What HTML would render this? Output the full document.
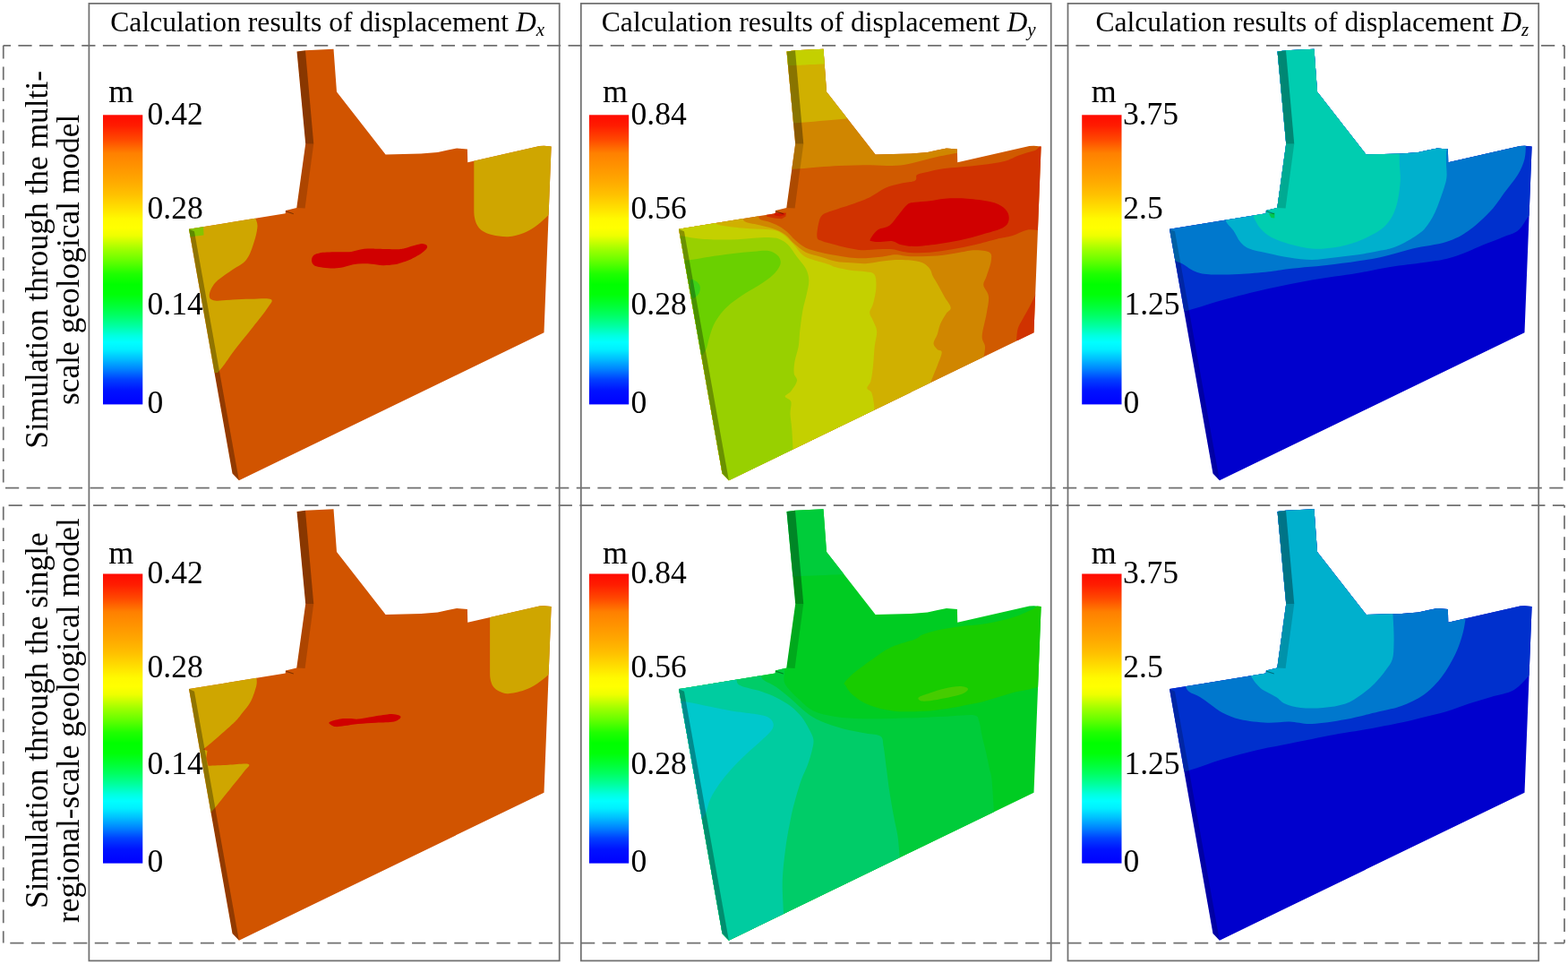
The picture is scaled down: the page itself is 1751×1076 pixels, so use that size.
<!DOCTYPE html>
<html lang="en"><head><meta charset="utf-8"><title>Displacement calculation results</title>
<style>html,body{margin:0;padding:0;background:#fff}body{width:1751px;height:1076px;overflow:hidden}svg{display:block}text{font-family:"Liberation Serif",serif;fill:#000}</style>
</head><body>
<svg width="1751" height="1076" viewBox="0 0 1751 1076">
<defs>
<linearGradient id="cb" x1="0" y1="0" x2="0" y2="1"><stop offset="0" stop-color="#ff0a00"/><stop offset="0.037" stop-color="#ff1c00"/><stop offset="0.085" stop-color="#ff4800"/><stop offset="0.132" stop-color="#ff8000"/><stop offset="0.18" stop-color="#ff9400"/><stop offset="0.227" stop-color="#ffa800"/><stop offset="0.274" stop-color="#ffc000"/><stop offset="0.322" stop-color="#ffe000"/><stop offset="0.36" stop-color="#fffa00"/><stop offset="0.39" stop-color="#ffff00"/><stop offset="0.417" stop-color="#eeff00"/><stop offset="0.464" stop-color="#a0ff00"/><stop offset="0.5" stop-color="#6cff00"/><stop offset="0.548" stop-color="#20ff00"/><stop offset="0.585" stop-color="#00ff00"/><stop offset="0.62" stop-color="#00ff08"/><stop offset="0.655" stop-color="#00ff30"/><stop offset="0.69" stop-color="#00ff60"/><stop offset="0.728" stop-color="#00ffa0"/><stop offset="0.762" stop-color="#00ffe0"/><stop offset="0.785" stop-color="#00ffff"/><stop offset="0.81" stop-color="#00f0ff"/><stop offset="0.842" stop-color="#00c0ff"/><stop offset="0.88" stop-color="#0080ff"/><stop offset="0.914" stop-color="#0040ff"/><stop offset="0.952" stop-color="#0012ff"/><stop offset="1" stop-color="#0000ff"/></linearGradient>
<clipPath id="sil"><polygon points="331.50,57.50 341.00,56.25 372.50,54.75 376.00,102.50 430.60,172.50 470.00,171.50 488.75,170.00 500.00,167.50 510.00,165.60 521.90,166.50 522.25,181.25 602.50,163.10 607.50,162.75 615.60,163.50 607.50,371.25 266.90,536.25 259.50,528.50 211.00,255.70 318.75,238.20 318.90,235.00 331.25,232.00 341.20,160.60"/></clipPath>
</defs>
<rect width="1751" height="1076" fill="#fff"/>
<g transform="translate(0,0)">
<g clip-path="url(#sil)">
<rect x="200" y="40" width="430" height="510" fill="#d15400"/>
<path d="M285.00,243.00C285.42,244.58 287.71,248.00 287.50,252.50C287.29,257.00 285.83,263.75 283.75,270.00C281.67,276.25 279.38,284.58 275.00,290.00C270.62,295.42 263.33,298.17 257.50,302.50C251.67,306.83 243.96,311.42 240.00,316.00C236.04,320.58 233.75,326.75 233.75,330.00C233.75,333.25 235.62,334.75 240.00,335.50C244.38,336.25 253.33,334.79 260.00,334.50C266.67,334.21 272.92,333.83 280.00,333.75C287.08,333.67 299.38,332.33 302.50,334.00C305.62,335.67 302.08,338.58 298.75,343.75C295.42,348.92 288.54,357.29 282.50,365.00C276.46,372.71 267.92,382.92 262.50,390.00C257.08,397.08 253.25,403.17 250.00,407.50C246.75,411.83 244.17,414.58 243.00,416.00L200.00,416.00L200.00,240.00L285.00,235.00Z" fill="#cfa600"/>
<path d="M529.30,236.00C529.38,237.00 529.43,239.92 529.80,242.00C530.17,244.08 530.63,246.42 531.50,248.50C532.37,250.58 533.42,252.75 535.00,254.50C536.58,256.25 538.50,257.70 541.00,259.00C543.50,260.30 545.58,261.43 550.00,262.30C554.42,263.18 561.67,264.63 567.50,264.25C573.33,263.87 579.58,262.17 585.00,260.00C590.42,257.83 595.42,254.58 600.00,251.25C604.58,247.92 609.17,243.21 612.50,240.00C615.83,236.79 618.75,233.33 620.00,232.00L625.00,160.00L529.30,160.00Z" fill="#cfa600"/>
<path d="M348.20,288.70C348.54,287.17 349.38,285.55 350.80,284.50C352.22,283.45 354.33,282.88 356.70,282.40C359.07,281.92 361.53,281.78 365.00,281.60C368.47,281.42 373.33,281.37 377.50,281.30C381.67,281.23 386.53,281.50 390.00,281.20C393.47,280.90 395.52,280.07 398.30,279.50C401.08,278.93 403.92,278.15 406.70,277.80C409.48,277.45 412.23,277.40 415.00,277.40C417.77,277.40 418.43,277.66 423.30,277.80C428.17,277.94 439.33,278.38 444.20,278.25C449.07,278.12 449.73,277.62 452.50,277.00C455.27,276.38 458.30,275.22 460.80,274.50C463.30,273.78 465.68,273.12 467.50,272.70C469.32,272.28 470.32,271.91 471.70,272.00C473.08,272.09 474.90,272.62 475.80,273.25C476.70,273.88 477.23,274.77 477.10,275.75C476.97,276.73 476.32,277.78 475.00,279.10C473.68,280.43 472.25,281.83 469.20,283.70C466.15,285.57 460.18,288.71 456.70,290.30C453.22,291.89 451.08,292.42 448.30,293.25C445.52,294.08 443.47,294.81 440.00,295.30C436.53,295.79 431.67,296.30 427.50,296.20C423.33,296.10 418.75,295.02 415.00,294.70C411.25,294.38 408.47,294.20 405.00,294.30C401.53,294.40 397.82,294.64 394.20,295.30C390.58,295.96 386.78,297.55 383.30,298.25C379.82,298.95 377.05,299.43 373.30,299.50C369.55,299.57 364.27,299.12 360.80,298.70C357.33,298.28 354.51,297.83 352.50,297.00C350.49,296.17 349.47,295.08 348.75,293.70C348.03,292.32 347.86,290.23 348.20,288.70Z" fill="#d00000"/>
<polygon points="208.00,250.00 227.00,250.00 227.50,262.50 208.00,265.00" fill="#86c400"/>
<polygon points="331.50,57.50 341.00,56.25 350.25,160.60 341.20,160.60" fill="#000" fill-opacity="0.34"/>
<polygon points="341.20,160.60 350.25,160.60 340.60,232.50 331.25,232.00" fill="#000" fill-opacity="0.17"/>
<polygon points="211.00,255.70 217.00,258.30 266.90,536.25 259.50,528.50" fill="#000" fill-opacity="0.3"/>
<polygon points="319.00,235.00 327.80,238.20 327.80,239.20 319.00,236.30" fill="#000" fill-opacity="0.4"/>
</g>
</g>
<g transform="translate(547,0)">
<g clip-path="url(#sil)">
<rect x="200" y="40" width="430" height="510" fill="#d05a00"/>
<path d="M325.00,190.00C328.55,189.72 335.52,189.13 346.30,188.30C357.08,187.47 376.63,185.68 389.70,185.00C402.77,184.32 414.70,184.20 424.70,184.20C434.70,184.20 442.77,185.15 449.70,185.00C456.63,184.85 460.75,184.27 466.30,183.30C471.85,182.33 477.43,180.58 483.00,179.20C488.57,177.82 494.15,176.25 499.70,175.00C505.25,173.75 512.42,172.45 516.30,171.70C520.18,170.95 521.88,170.70 523.00,170.50L523.00,30.00L325.00,30.00Z" fill="#d08600"/>
<path d="M325.00,138.00C328.97,137.78 340.47,137.28 348.80,136.70C357.13,136.12 366.80,135.20 375.00,134.50C383.20,133.80 391.33,133.08 398.00,132.50C404.67,131.92 412.17,131.25 415.00,131.00L415.00,30.00L325.00,30.00Z" fill="#d0b000"/>
<path d="M325.00,73.50C328.33,73.38 339.17,73.05 345.00,72.80C350.83,72.55 353.33,72.30 360.00,72.00C366.67,71.70 380.83,71.17 385.00,71.00L385.00,30.00L325.00,30.00Z" fill="#c4d000"/>
<path d="M365.50,265.00C364.83,261.83 366.03,254.17 367.00,250.00C367.97,245.83 368.63,242.50 371.30,240.00C373.97,237.50 376.88,237.22 383.00,235.00C389.12,232.78 401.05,229.20 408.00,226.70C414.95,224.20 419.15,222.78 424.70,220.00C430.25,217.22 435.75,212.50 441.30,210.00C446.85,207.50 452.43,206.38 458.00,205.00C463.57,203.62 471.50,203.37 474.70,201.70C477.90,200.03 474.70,196.67 477.20,195.00C479.70,193.33 484.85,192.82 489.70,191.70C494.55,190.58 500.47,189.17 506.30,188.30C512.13,187.43 517.47,187.22 524.70,186.50C531.93,185.78 541.37,185.08 549.70,184.00C558.03,182.92 567.77,181.78 574.70,180.00C581.63,178.22 585.75,175.25 591.30,173.30C596.85,171.35 602.38,169.85 608.00,168.30C613.62,166.75 622.17,149.72 625.00,164.00C627.83,178.28 627.00,238.55 625.00,254.00C623.00,269.45 617.22,256.25 613.00,256.70C608.78,257.15 604.70,255.60 599.70,256.70C594.70,257.80 588.57,261.63 583.00,263.30C577.43,264.97 573.25,265.03 566.30,266.70C559.35,268.37 549.63,271.37 541.30,273.30C532.97,275.23 524.63,276.90 516.30,278.30C507.97,279.70 499.63,281.13 491.30,281.70C482.97,282.27 473.23,282.27 466.30,281.70C459.37,281.13 455.25,278.87 449.70,278.30C444.15,277.73 438.57,278.15 433.00,278.30C427.43,278.45 421.85,279.47 416.30,279.20C410.75,278.93 405.25,277.82 399.70,276.70C394.15,275.58 387.78,273.78 383.00,272.50C378.22,271.22 373.92,270.25 371.00,269.00C368.08,267.75 366.17,268.17 365.50,265.00Z" fill="#d03200"/>
<path d="M424.70,267.50C425.53,265.37 429.40,259.33 433.00,256.70C436.60,254.07 442.42,254.48 446.30,251.70C450.18,248.92 452.97,243.90 456.30,240.00C459.63,236.10 463.23,230.67 466.30,228.30C469.37,225.93 470.53,226.48 474.70,225.80C478.87,225.12 485.75,224.88 491.30,224.20C496.85,223.52 501.05,222.12 508.00,221.70C514.95,221.28 524.67,221.15 533.00,221.70C541.33,222.25 551.62,223.62 558.00,225.00C564.38,226.38 567.83,227.78 571.30,230.00C574.77,232.22 577.55,235.25 578.80,238.30C580.05,241.35 580.05,245.52 578.80,248.30C577.55,251.08 576.15,252.77 571.30,255.00C566.45,257.23 557.47,259.48 549.70,261.70C541.93,263.92 533.03,266.50 524.70,268.30C516.37,270.10 508.03,271.38 499.70,272.50C491.37,273.62 481.37,274.87 474.70,275.00C468.03,275.13 463.87,274.27 459.70,273.30C455.53,272.33 453.60,269.75 449.70,269.20C445.80,268.65 439.92,269.95 436.30,270.00C432.68,270.05 429.93,269.92 428.00,269.50C426.07,269.08 423.87,269.63 424.70,267.50Z" fill="#d00000"/>
<path d="M612.00,323.00C611.62,323.88 611.20,325.18 609.70,328.30C608.20,331.42 605.50,336.97 603.00,341.70C600.50,346.43 596.92,352.53 594.70,356.70C592.48,360.87 590.82,362.82 589.70,366.70C588.58,370.58 588.28,377.78 588.00,380.00L630.00,380.00L630.00,323.00Z" fill="#d03200"/>
<polygon points="308.00,236.00 309.50,241.80 318.00,243.60 326.00,244.20 330.50,241.50 331.00,237.50 319.00,237.40" fill="#d03200"/>
<polygon points="317.00,237.40 318.50,240.60 324.00,241.60 329.00,240.20 330.00,238.00 319.00,237.60" fill="#d01800"/>
<path d="M300.00,234.00C300.17,235.67 299.00,241.70 301.00,244.00C303.00,246.30 308.50,246.47 312.00,247.80C315.50,249.13 318.78,250.25 322.00,252.00C325.22,253.75 328.08,255.58 331.30,258.30C334.52,261.02 337.68,265.23 341.30,268.30C344.92,271.37 348.27,274.47 353.00,276.70C357.73,278.93 364.15,280.32 369.70,281.70C375.25,283.08 379.37,283.90 386.30,285.00C393.23,286.10 402.97,288.02 411.30,288.30C419.63,288.58 429.35,287.38 436.30,286.70C443.25,286.02 447.43,284.28 453.00,284.20C458.57,284.12 461.92,285.98 469.70,286.20C477.48,286.42 490.53,286.25 499.70,285.50C508.87,284.75 517.77,282.75 524.70,281.70C531.63,280.65 535.75,279.20 541.30,279.20C546.85,279.20 554.93,279.62 558.00,281.70C561.07,283.78 560.25,287.27 559.70,291.70C559.15,296.13 556.10,303.87 554.70,308.30C553.30,312.73 550.92,314.52 551.30,318.30C551.68,322.08 556.43,325.72 557.00,331.00C557.57,336.28 555.92,342.67 554.70,350.00C553.48,357.33 549.98,368.88 549.70,375.00C549.42,381.12 552.73,382.53 553.00,386.70C553.27,390.87 551.58,397.78 551.30,400.00L551.00,560.00L200.00,560.00L200.00,30.00L283.00,30.00Z" fill="#d08600"/>
<path d="M283.00,236.00C283.17,237.80 281.17,244.30 284.00,246.80C286.83,249.30 294.62,249.58 300.00,251.00C305.38,252.42 311.35,253.52 316.30,255.30C321.25,257.08 325.80,258.97 329.70,261.70C333.60,264.43 335.82,268.37 339.70,271.70C343.58,275.03 348.00,279.20 353.00,281.70C358.00,284.20 364.15,285.03 369.70,286.70C375.25,288.37 380.75,290.60 386.30,291.70C391.85,292.80 397.43,292.88 403.00,293.30C408.57,293.72 414.15,294.47 419.70,294.20C425.25,293.93 430.75,292.40 436.30,291.70C441.85,291.00 447.43,290.20 453.00,290.00C458.57,289.80 464.70,289.95 469.70,290.50C474.70,291.05 479.40,291.72 483.00,293.30C486.60,294.88 489.35,297.50 491.30,300.00C493.25,302.50 493.30,305.52 494.70,308.30C496.10,311.08 497.48,312.80 499.70,316.70C501.92,320.60 505.50,327.27 508.00,331.70C510.50,336.13 514.42,340.25 514.70,343.30C514.98,346.35 511.65,346.93 509.70,350.00C507.75,353.07 504.67,357.82 503.00,361.70C501.33,365.58 500.95,369.70 499.70,373.30C498.45,376.90 495.50,380.52 495.50,383.30C495.50,386.08 498.17,388.33 499.70,390.00C501.23,391.67 504.70,390.25 504.70,393.30C504.70,396.35 501.65,403.02 499.70,408.30C497.75,413.58 494.45,421.05 493.00,425.00C491.55,428.95 491.33,430.83 491.00,432.00L491.00,560.00L200.00,560.00L200.00,30.00L269.00,30.00Z" fill="#d0b000"/>
<path d="M252.00,240.00C252.17,241.67 248.67,247.63 253.00,250.00C257.33,252.37 269.67,253.23 278.00,254.20C286.33,255.17 296.05,255.25 303.00,255.80C309.95,256.35 315.25,256.25 319.70,257.50C324.15,258.75 326.37,260.67 329.70,263.30C333.03,265.93 336.37,269.68 339.70,273.30C343.03,276.92 346.10,282.22 349.70,285.00C353.30,287.78 356.58,288.33 361.30,290.00C366.02,291.67 373.83,293.62 378.00,295.00C382.17,296.38 382.13,297.18 386.30,298.30C390.47,299.42 397.43,300.87 403.00,301.70C408.57,302.53 415.25,302.47 419.70,303.30C424.15,304.13 427.77,303.58 429.70,306.70C431.63,309.82 431.58,316.62 431.30,322.00C431.02,327.38 429.18,334.50 428.00,339.00C426.82,343.50 424.20,345.83 424.20,349.00C424.20,352.17 426.67,354.50 428.00,358.00C429.33,361.50 431.92,365.22 432.20,370.00C432.48,374.78 430.40,380.32 429.70,386.70C429.00,393.08 428.70,401.92 428.00,408.30C427.30,414.68 426.62,420.83 425.50,425.00C424.38,429.17 421.17,431.08 421.30,433.30C421.43,435.52 425.05,435.52 426.30,438.30C427.55,441.08 428.23,446.05 428.80,450.00C429.37,453.95 429.55,460.00 429.70,462.00L429.70,560.00L200.00,560.00L200.00,30.00L252.00,30.00Z" fill="#c4d000"/>
<path d="M200.00,262.00C202.30,262.22 207.75,262.52 213.80,263.30C219.85,264.08 226.98,266.00 236.30,266.70C245.62,267.40 259.97,267.65 269.70,267.50C279.43,267.35 287.77,266.22 294.70,265.80C301.63,265.38 306.58,264.85 311.30,265.00C316.02,265.15 319.38,265.32 323.00,266.70C326.62,268.08 329.67,269.97 333.00,273.30C336.33,276.63 339.67,282.25 343.00,286.70C346.33,291.15 350.78,295.57 353.00,300.00C355.22,304.43 356.17,308.58 356.30,313.30C356.43,318.02 354.90,323.02 353.80,328.30C352.70,333.58 350.80,339.43 349.70,345.00C348.60,350.57 347.82,357.20 347.20,361.70C346.58,366.20 346.42,367.83 346.00,372.00C345.58,376.17 345.62,381.48 344.70,386.70C343.78,391.92 341.33,398.30 340.50,403.30C339.67,408.30 339.28,413.08 339.70,416.70C340.12,420.32 343.57,421.67 343.00,425.00C342.43,428.33 338.52,433.78 336.30,436.70C334.08,439.62 329.70,440.57 329.70,442.50C329.70,444.43 335.33,445.10 336.30,448.30C337.27,451.50 335.35,456.70 335.50,461.70C335.65,466.70 336.65,471.08 337.20,478.30C337.75,485.52 338.53,500.55 338.80,505.00L338.80,560.00L200.00,560.00Z" fill="#98d000"/>
<path d="M200.00,292.00C204.12,291.67 217.25,290.88 224.70,290.00C232.15,289.12 237.20,287.82 244.70,286.70C252.20,285.58 261.37,284.28 269.70,283.30C278.03,282.32 287.77,281.35 294.70,280.80C301.63,280.25 306.87,279.30 311.30,280.00C315.73,280.70 319.07,283.05 321.30,285.00C323.53,286.95 324.42,289.48 324.70,291.70C324.98,293.92 324.40,295.80 323.00,298.30C321.60,300.80 319.63,303.63 316.30,306.70C312.97,309.77 308.00,313.37 303.00,316.70C298.00,320.03 291.85,323.10 286.30,326.70C280.75,330.30 274.42,334.42 269.70,338.30C264.98,342.18 261.33,345.83 258.00,350.00C254.67,354.17 251.92,358.58 249.70,363.30C247.48,368.02 245.95,374.18 244.70,378.30C243.45,382.42 243.32,385.05 242.20,388.00C241.08,390.95 238.70,394.67 238.00,396.00L200.00,396.00Z" fill="#6ad000"/>
<path d="M224.00,313.00C224.75,310.00 228.75,313.00 230.50,314.00C232.25,315.00 233.87,317.08 234.50,319.00C235.13,320.92 234.88,323.58 234.30,325.50C233.72,327.42 232.38,329.42 231.00,330.50C229.62,331.58 227.17,334.92 226.00,332.00C224.83,329.08 223.25,316.00 224.00,313.00Z" fill="#3cd018"/>
<polygon points="331.50,57.50 341.00,56.25 350.25,160.60 341.20,160.60" fill="#000" fill-opacity="0.34"/>
<polygon points="341.20,160.60 350.25,160.60 340.60,232.50 331.25,232.00" fill="#000" fill-opacity="0.17"/>
<polygon points="211.00,255.70 217.00,258.30 266.90,536.25 259.50,528.50" fill="#000" fill-opacity="0.3"/>
<polygon points="319.00,235.00 327.80,238.20 327.80,239.20 319.00,236.30" fill="#000" fill-opacity="0.4"/>
</g>
</g>
<g transform="translate(1095,0)">
<g clip-path="url(#sil)">
<rect x="200" y="40" width="430" height="510" fill="#0000cd"/>
<path d="M200.00,353.00C205.42,351.88 220.83,349.25 232.50,346.25C244.17,343.25 255.42,338.96 270.00,335.00C284.58,331.04 303.33,326.25 320.00,322.50C336.67,318.75 353.33,315.42 370.00,312.50C386.67,309.58 405.42,307.42 420.00,305.00C434.58,302.58 445.00,300.00 457.50,298.00C470.00,296.00 484.58,294.50 495.00,293.00C505.42,291.50 512.50,290.75 520.00,289.00C527.50,287.25 533.75,284.83 540.00,282.50C546.25,280.17 550.42,277.92 557.50,275.00C564.58,272.08 575.42,267.92 582.50,265.00C589.58,262.08 595.21,261.25 600.00,257.50C604.79,253.75 607.08,247.92 611.25,242.50C615.42,237.08 622.71,227.92 625.00,225.00L625.00,40.00L200.00,40.00Z" fill="#0030cd"/>
<path d="M200.00,286.00C203.88,287.25 216.92,290.75 223.30,293.50C229.68,296.25 233.02,300.37 238.30,302.50C243.58,304.63 246.67,305.72 255.00,306.30C263.33,306.88 277.18,306.50 288.30,306.00C299.42,305.50 312.25,304.30 321.70,303.30C331.15,302.30 332.78,301.38 345.00,300.00C357.22,298.62 378.33,297.08 395.00,295.00C411.67,292.92 430.42,290.42 445.00,287.50C459.58,284.58 470.00,280.42 482.50,277.50C495.00,274.58 509.58,273.33 520.00,270.00C530.42,266.67 536.67,263.33 545.00,257.50C553.33,251.67 563.33,242.08 570.00,235.00C576.67,227.92 580.00,221.67 585.00,215.00C590.00,208.33 596.25,201.25 600.00,195.00C603.75,188.75 606.00,183.33 607.50,177.50C609.00,171.67 608.75,162.92 609.00,160.00L609.00,40.00L200.00,40.00Z" fill="#0078cd"/>
<path d="M272.00,240.00C272.50,241.46 273.25,245.83 275.00,248.75C276.75,251.67 280.00,253.96 282.50,257.50C285.00,261.04 287.08,266.67 290.00,270.00C292.92,273.33 295.00,275.42 300.00,277.50C305.00,279.58 312.50,280.83 320.00,282.50C327.50,284.17 336.67,286.25 345.00,287.50C353.33,288.75 361.67,290.00 370.00,290.00C378.33,290.00 386.67,288.42 395.00,287.50C403.33,286.58 411.67,285.75 420.00,284.50C428.33,283.25 438.67,281.20 445.00,280.00C451.33,278.80 453.55,278.68 458.00,277.30C462.45,275.92 466.65,274.30 471.70,271.70C476.75,269.10 484.08,264.65 488.30,261.70C492.52,258.75 493.80,258.12 497.00,254.00C500.20,249.88 504.08,244.33 507.50,237.00C510.92,229.67 515.33,216.67 517.50,210.00C519.67,203.33 520.08,201.67 520.50,197.00C520.92,192.33 520.08,186.50 520.00,182.00C519.92,177.50 520.00,172.00 520.00,170.00L525.00,150.00L520.00,40.00L272.00,40.00Z" fill="#00b0cd"/>
<path d="M303.00,236.00C303.33,237.08 303.42,239.33 305.00,242.50C306.58,245.67 309.17,251.25 312.50,255.00C315.83,258.75 319.58,262.08 325.00,265.00C330.42,267.92 337.50,270.42 345.00,272.50C352.50,274.58 361.67,276.88 370.00,277.50C378.33,278.12 386.67,277.50 395.00,276.25C403.33,275.00 411.67,273.12 420.00,270.00C428.33,266.88 438.75,261.67 445.00,257.50C451.25,253.33 454.17,250.00 457.50,245.00C460.83,240.00 463.12,234.58 465.00,227.50C466.88,220.42 468.25,209.58 468.75,202.50C469.25,195.42 468.21,191.25 468.00,185.00C467.79,178.75 467.58,168.33 467.50,165.00L467.50,40.00L303.00,40.00Z" fill="#00cdb0"/>
<polygon points="322.00,238.60 328.50,237.60 328.30,243.50 324.50,243.00" fill="#00c850"/>
<polygon points="331.50,57.50 341.00,56.25 350.25,160.60 341.20,160.60" fill="#000" fill-opacity="0.34"/>
<polygon points="341.20,160.60 350.25,160.60 340.60,232.50 331.25,232.00" fill="#000" fill-opacity="0.17"/>
<polygon points="211.00,255.70 217.00,258.30 266.90,536.25 259.50,528.50" fill="#000" fill-opacity="0.2"/>
<polygon points="319.00,235.00 327.80,238.20 327.80,239.20 319.00,236.30" fill="#000" fill-opacity="0.4"/>
</g>
</g>
<g transform="translate(0,513.4)">
<g clip-path="url(#sil)">
<rect x="200" y="40" width="430" height="510" fill="#d15400"/>
<path d="M286.50,243.00C286.46,244.50 287.33,247.58 286.25,252.00C285.17,256.42 282.71,264.33 280.00,269.50C277.29,274.67 272.92,279.25 270.00,283.00C267.08,286.75 266.67,287.88 262.50,292.00C258.33,296.12 249.92,303.42 245.00,307.75C240.08,312.08 236.83,314.79 233.00,318.00C229.17,321.21 223.83,325.50 222.00,327.00L200.00,327.00L200.00,240.00L286.00,235.00Z" fill="#cfa600"/>
<polygon points="212.00,318.00 231.50,324.50 230.30,332.50 232.50,341.30 212.00,343.00" fill="#cfa600"/>
<path d="M222.00,340.50C223.75,340.63 227.00,341.33 232.50,341.30C238.00,341.27 247.50,340.60 255.00,340.30C262.50,340.00 274.58,338.26 277.50,339.50C280.42,340.74 275.83,343.25 272.50,347.75C269.17,352.25 262.50,360.25 257.50,366.50C252.50,372.75 246.42,380.50 242.50,385.25C238.58,390.00 235.42,393.38 234.00,395.00L200.00,395.00L200.00,340.00Z" fill="#cfa600"/>
<path d="M547.10,236.00C547.15,237.17 547.08,240.75 547.40,243.00C547.72,245.25 548.15,247.53 549.00,249.50C549.85,251.47 550.83,253.25 552.50,254.80C554.17,256.35 556.50,257.81 559.00,258.80C561.50,259.79 563.17,261.05 567.50,260.75C571.83,260.45 579.58,258.88 585.00,257.00C590.42,255.12 595.42,252.42 600.00,249.50C604.58,246.58 609.17,242.42 612.50,239.50C615.83,236.58 618.75,233.25 620.00,232.00L625.00,160.00L547.10,160.00Z" fill="#cfa600"/>
<path d="M368.00,292.50C369.75,291.42 376.33,289.65 380.00,289.00C383.67,288.35 386.67,288.57 390.00,288.60C393.33,288.63 396.25,289.47 400.00,289.20C403.75,288.93 407.08,287.87 412.50,287.00C417.92,286.13 427.58,284.47 432.50,284.00C437.42,283.53 439.50,283.70 442.00,284.20C444.50,284.70 447.83,285.70 447.50,287.00C447.17,288.30 444.58,290.96 440.00,292.00C435.42,293.04 426.67,292.83 420.00,293.25C413.33,293.67 405.83,293.94 400.00,294.50C394.17,295.06 389.17,296.07 385.00,296.60C380.83,297.13 377.58,297.88 375.00,297.70C372.42,297.52 370.67,296.37 369.50,295.50C368.33,294.63 366.25,293.58 368.00,292.50Z" fill="#d00000"/>
<polygon points="331.50,57.50 341.00,56.25 350.25,160.60 341.20,160.60" fill="#000" fill-opacity="0.34"/>
<polygon points="341.20,160.60 350.25,160.60 340.60,232.50 331.25,232.00" fill="#000" fill-opacity="0.17"/>
<polygon points="211.00,255.70 217.00,258.30 266.90,536.25 259.50,528.50" fill="#000" fill-opacity="0.3"/>
<polygon points="319.00,235.00 327.80,238.20 327.80,239.20 319.00,236.30" fill="#000" fill-opacity="0.4"/>
</g>
</g>
<g transform="translate(547,513.4)">
<g clip-path="url(#sil)">
<rect x="200" y="40" width="430" height="510" fill="#00cc22"/>
<path d="M325.00,130.50C328.83,130.33 339.67,129.83 348.00,129.50C356.33,129.17 365.50,128.92 375.00,128.50C384.50,128.08 400.00,127.25 405.00,127.00L405.00,30.00L325.00,30.00Z" fill="#00cc3a"/>
<path d="M396.30,248.30C398.10,245.80 401.88,241.70 408.00,236.70C414.12,231.70 426.05,223.03 433.00,218.30C439.95,213.57 442.75,211.35 449.70,208.30C456.65,205.25 469.15,202.22 474.70,200.00C480.25,197.78 478.83,196.67 483.00,195.00C487.17,193.33 492.75,191.53 499.70,190.00C506.65,188.47 516.37,186.92 524.70,185.80C533.03,184.68 541.37,184.55 549.70,183.30C558.03,182.05 567.77,179.97 574.70,178.30C581.63,176.63 586.03,175.23 591.30,173.30C596.57,171.37 600.68,168.92 606.30,166.70C611.92,164.48 621.88,145.78 625.00,160.00C628.12,174.22 627.00,236.45 625.00,252.00C623.00,267.55 617.22,252.52 613.00,253.30C608.78,254.08 604.70,255.58 599.70,256.70C594.70,257.82 588.57,258.62 583.00,260.00C577.43,261.38 571.85,263.33 566.30,265.00C560.75,266.67 555.25,268.62 549.70,270.00C544.15,271.38 538.57,272.18 533.00,273.30C527.43,274.42 523.25,275.58 516.30,276.70C509.35,277.82 499.63,279.32 491.30,280.00C482.97,280.68 473.23,280.80 466.30,280.80C459.37,280.80 455.25,280.68 449.70,280.00C444.15,279.32 438.57,278.37 433.00,276.70C427.43,275.03 421.30,272.78 416.30,270.00C411.30,267.22 406.18,263.05 403.00,260.00C399.82,256.95 398.32,253.65 397.20,251.70C396.08,249.75 394.50,250.80 396.30,248.30Z" fill="#18cc00"/>
<path d="M478.80,265.00C480.18,263.47 486.43,261.67 491.30,260.00C496.17,258.33 502.43,256.25 508.00,255.00C513.57,253.75 520.40,252.50 524.70,252.50C529.00,252.50 532.97,253.75 533.80,255.00C534.63,256.25 532.62,258.47 529.70,260.00C526.78,261.53 521.30,262.95 516.30,264.20C511.30,265.45 505.25,266.67 499.70,267.50C494.15,268.33 486.48,269.62 483.00,269.20C479.52,268.78 477.42,266.53 478.80,265.00Z" fill="#46cc00"/>
<path d="M329.00,238.00C329.12,240.00 327.08,245.22 329.70,250.00C332.32,254.78 339.43,261.70 344.70,266.70C349.97,271.70 354.37,276.70 361.30,280.00C368.23,283.30 377.13,285.03 386.30,286.50C395.47,287.97 405.73,288.47 416.30,288.80C426.87,289.13 438.58,288.72 449.70,288.50C460.82,288.28 471.90,287.95 483.00,287.50C494.10,287.05 506.58,286.22 516.30,285.80C526.02,285.38 536.30,284.02 541.30,285.00C546.30,285.98 544.90,287.82 546.30,291.70C547.70,295.58 548.30,302.12 549.70,308.30C551.10,314.48 553.32,322.68 554.70,328.80C556.08,334.92 557.03,340.38 558.00,345.00C558.97,349.62 559.67,348.67 560.50,356.50C561.33,364.33 562.58,386.08 563.00,392.00L563.00,560.00L200.00,560.00L200.00,30.00L329.00,30.00Z" fill="#00cc3a"/>
<path d="M303.00,238.00C303.33,239.17 302.22,242.45 305.00,245.00C307.78,247.55 314.48,249.68 319.70,253.30C324.92,256.92 330.75,261.97 336.30,266.70C341.85,271.43 347.43,277.53 353.00,281.70C358.57,285.87 362.75,288.65 369.70,291.70C376.65,294.75 386.37,297.78 394.70,300.00C403.03,302.22 412.77,303.62 419.70,305.00C426.63,306.38 432.97,305.80 436.30,308.30C439.63,310.80 438.58,313.88 439.70,320.00C440.82,326.12 441.90,336.67 443.00,345.00C444.10,353.33 444.92,361.03 446.30,370.00C447.68,378.97 449.77,390.47 451.30,398.80C452.83,407.13 454.38,411.97 455.50,420.00C456.62,428.03 457.58,442.50 458.00,447.00L458.00,560.00L200.00,560.00L200.00,30.00L303.00,30.00Z" fill="#00cc68"/>
<path d="M277.00,240.00C277.17,241.80 273.67,247.75 278.00,250.80C282.33,253.85 296.05,255.93 303.00,258.30C309.95,260.67 314.15,262.22 319.70,265.00C325.25,267.78 331.58,271.38 336.30,275.00C341.02,278.62 344.67,282.53 348.00,286.70C351.33,290.87 354.08,295.83 356.30,300.00C358.52,304.17 360.68,307.82 361.30,311.70C361.92,315.58 361.05,318.58 360.00,323.30C358.95,328.02 357.00,334.47 355.00,340.00C353.00,345.53 350.28,350.12 348.00,356.50C345.72,362.88 343.25,371.25 341.30,378.30C339.35,385.35 338.10,389.93 336.30,398.80C334.50,407.67 332.08,419.80 330.50,431.50C328.92,443.20 327.22,456.58 326.80,469.00C326.38,481.42 327.80,499.83 328.00,506.00L328.00,560.00L200.00,560.00L200.00,30.00L277.00,30.00Z" fill="#00cca0"/>
<path d="M200.00,268.00C203.28,268.33 212.25,268.83 219.70,270.00C227.15,271.17 236.37,273.33 244.70,275.00C253.03,276.67 261.37,278.62 269.70,280.00C278.03,281.38 288.03,282.18 294.70,283.30C301.37,284.42 306.10,285.03 309.70,286.70C313.30,288.37 315.47,290.80 316.30,293.30C317.13,295.80 316.92,298.37 314.70,301.70C312.48,305.03 307.73,308.87 303.00,313.30C298.27,317.73 291.85,323.02 286.30,328.30C280.75,333.58 274.70,339.43 269.70,345.00C264.70,350.57 260.20,356.15 256.30,361.70C252.40,367.25 248.80,373.03 246.30,378.30C243.80,383.57 243.02,389.35 241.30,393.30C239.58,397.25 236.88,400.55 236.00,402.00L200.00,402.00Z" fill="#00c8cc"/>
<polygon points="331.50,57.50 341.00,56.25 350.25,160.60 341.20,160.60" fill="#000" fill-opacity="0.34"/>
<polygon points="341.20,160.60 350.25,160.60 340.60,232.50 331.25,232.00" fill="#000" fill-opacity="0.17"/>
<polygon points="211.00,255.70 217.00,258.30 266.90,536.25 259.50,528.50" fill="#000" fill-opacity="0.3"/>
<polygon points="319.00,235.00 327.80,238.20 327.80,239.20 319.00,236.30" fill="#000" fill-opacity="0.4"/>
</g>
</g>
<g transform="translate(1095,513.4)">
<g clip-path="url(#sil)">
<rect x="200" y="40" width="430" height="510" fill="#0000cd"/>
<path d="M200.00,353.00C205.42,351.92 220.83,349.67 232.50,346.50C244.17,343.33 257.50,337.75 270.00,334.00C282.50,330.25 295.00,326.92 307.50,324.00C320.00,321.08 330.42,319.42 345.00,316.50C359.58,313.58 380.42,309.21 395.00,306.50C409.58,303.79 420.00,302.50 432.50,300.25C445.00,298.00 459.58,295.21 470.00,293.00C480.42,290.79 486.67,289.04 495.00,287.00C503.33,284.96 511.67,283.25 520.00,280.75C528.33,278.25 536.67,274.71 545.00,272.00C553.33,269.29 561.67,267.00 570.00,264.50C578.33,262.00 588.12,260.75 595.00,257.00C601.88,253.25 606.25,247.33 611.25,242.00C616.25,236.67 622.71,227.83 625.00,225.00L625.00,40.00L200.00,40.00Z" fill="#0030cd"/>
<path d="M228.00,250.00C228.75,251.38 229.67,255.83 232.50,258.25C235.33,260.67 240.92,262.04 245.00,264.50C249.08,266.96 252.83,270.08 257.00,273.00C261.17,275.92 264.50,279.25 270.00,282.00C275.50,284.75 281.67,287.62 290.00,289.50C298.33,291.38 310.83,292.83 320.00,293.25C329.17,293.67 336.67,291.79 345.00,292.00C353.33,292.21 359.58,294.92 370.00,294.50C380.42,294.08 395.00,291.79 407.50,289.50C420.00,287.21 434.58,283.25 445.00,280.75C455.42,278.25 461.67,277.62 470.00,274.50C478.33,271.38 487.50,267.42 495.00,262.00C502.50,256.58 509.17,249.50 515.00,242.00C520.83,234.50 526.25,224.50 530.00,217.00C533.75,209.50 535.62,203.25 537.50,197.00C539.38,190.75 540.50,184.83 541.25,179.50C542.00,174.17 541.88,167.42 542.00,165.00L542.00,40.00L228.00,40.00Z" fill="#0078cd"/>
<path d="M301.00,236.00C301.25,237.00 300.58,238.92 302.50,242.00C304.42,245.08 307.92,250.75 312.50,254.50C317.08,258.25 325.42,261.58 330.00,264.50C334.58,267.42 335.42,270.00 340.00,272.00C344.58,274.00 350.42,275.75 357.50,276.50C364.58,277.25 374.17,277.25 382.50,276.50C390.83,275.75 400.42,274.42 407.50,272.00C414.58,269.58 419.58,265.75 425.00,262.00C430.42,258.25 435.42,254.08 440.00,249.50C444.58,244.92 449.17,239.08 452.50,234.50C455.83,229.92 458.50,226.92 460.00,222.00C461.50,217.08 461.29,210.83 461.50,205.00C461.71,199.17 461.50,193.67 461.25,187.00C461.00,180.33 460.21,168.67 460.00,165.00L460.00,40.00L301.00,40.00Z" fill="#00b0cd"/>
<polygon points="331.50,57.50 341.00,56.25 350.25,160.60 341.20,160.60" fill="#000" fill-opacity="0.34"/>
<polygon points="341.20,160.60 350.25,160.60 340.60,232.50 331.25,232.00" fill="#000" fill-opacity="0.17"/>
<polygon points="211.00,255.70 217.00,258.30 266.90,536.25 259.50,528.50" fill="#000" fill-opacity="0.2"/>
<polygon points="319.00,235.00 327.80,238.20 327.80,239.20 319.00,236.30" fill="#000" fill-opacity="0.4"/>
</g>
</g>
<rect x="99.4" y="3.9" width="525.30" height="1068.50" fill="none" stroke="#707070" stroke-width="1.75"/>
<rect x="648.8" y="3.9" width="524.90" height="1068.50" fill="none" stroke="#707070" stroke-width="1.75"/>
<rect x="1192.5" y="3.9" width="525.70" height="1068.50" fill="none" stroke="#707070" stroke-width="1.75"/>
<path d="M3.75,50.8H1747.0" fill="none" stroke="#707070" stroke-width="1.75" stroke-dasharray="15.2 8.42" stroke-dashoffset="6.97"/>
<path d="M3.75,544.5H1747.0" fill="none" stroke="#707070" stroke-width="1.75" stroke-dasharray="15.2 8.42" stroke-dashoffset="21.37"/>
<path d="M3.75,50.8V544.5" fill="none" stroke="#707070" stroke-width="1.75" stroke-dasharray="14.8 8.85" stroke-dashoffset="0.00"/>
<path d="M1747.0,50.8V544.5" fill="none" stroke="#707070" stroke-width="1.75" stroke-dasharray="14.6 8.95" stroke-dashoffset="0.00"/>
<path d="M3.75,564.1H1747.0" fill="none" stroke="#707070" stroke-width="1.75" stroke-dasharray="15.2 8.42" stroke-dashoffset="17.77"/>
<path d="M3.75,1052.6H1747.0" fill="none" stroke="#707070" stroke-width="1.75" stroke-dasharray="15.2 8.42" stroke-dashoffset="16.07"/>
<path d="M3.75,564.1V1052.6" fill="none" stroke="#707070" stroke-width="1.75" stroke-dasharray="14.8 8.88" stroke-dashoffset="22.18"/>
<path d="M1747.0,564.1V1052.6" fill="none" stroke="#707070" stroke-width="1.75" stroke-dasharray="14.8 8.86" stroke-dashoffset="12.16"/>
<text x="123.3" y="35.3" font-size="31.6" xml:space="preserve">Calculation results of displacement <tspan font-style="italic">D</tspan><tspan font-style="italic" font-size="21" dy="4.2">x</tspan></text>
<text x="671.8" y="35.3" font-size="31.6" xml:space="preserve">Calculation results of displacement <tspan font-style="italic">D</tspan><tspan font-style="italic" font-size="21" dy="4.2">y</tspan></text>
<text x="1223.3999999999999" y="35.3" font-size="31.6" xml:space="preserve">Calculation results of displacement <tspan font-style="italic">D</tspan><tspan font-style="italic" font-size="21" dy="4.2">z</tspan></text>
<text transform="translate(52.5,289.8) rotate(-90)" text-anchor="middle" font-size="35.4">Simulation through the multi-</text>
<text transform="translate(87.5,289.8) rotate(-90)" text-anchor="middle" font-size="35.4">scale geological model</text>
<text transform="translate(52.5,804.1) rotate(-90)" text-anchor="middle" font-size="35.4">Simulation through the single</text>
<text transform="translate(87.5,804.1) rotate(-90)" text-anchor="middle" font-size="35.4">regional-scale geological model</text>
<rect x="115.0" y="128.3" width="44.3" height="323.1" fill="url(#cb)"/>
<text x="121.20" y="113.7" font-size="36">m</text>
<text x="164.50" y="138.6" font-size="35.6">0.42</text>
<text x="164.50" y="243.9" font-size="35.6">0.28</text>
<text x="164.50" y="351.4" font-size="35.6">0.14</text>
<text x="164.50" y="460.6" font-size="35.6">0</text>
<rect x="657.9" y="128.3" width="44.3" height="323.1" fill="url(#cb)"/>
<text x="673.05" y="113.7" font-size="36">m</text>
<text x="704.50" y="138.6" font-size="35.6">0.84</text>
<text x="704.50" y="243.9" font-size="35.6">0.56</text>
<text x="704.50" y="351.4" font-size="35.6">0.28</text>
<text x="704.50" y="460.6" font-size="35.6">0</text>
<rect x="1208.2" y="128.3" width="44.3" height="323.1" fill="url(#cb)"/>
<text x="1218.70" y="113.7" font-size="36">m</text>
<text x="1253.90" y="138.6" font-size="35.6">3.75</text>
<text x="1254.30" y="243.9" font-size="35.6">2.5</text>
<text x="1255.40" y="351.4" font-size="35.6">1.25</text>
<text x="1254.50" y="460.6" font-size="35.6">0</text>
<rect x="115.0" y="640.5" width="44.3" height="323.1" fill="url(#cb)"/>
<text x="121.20" y="628.7" font-size="36">m</text>
<text x="164.50" y="650.8000000000001" font-size="35.6">0.42</text>
<text x="164.50" y="756.1" font-size="35.6">0.28</text>
<text x="164.50" y="863.6" font-size="35.6">0.14</text>
<text x="164.50" y="972.8000000000001" font-size="35.6">0</text>
<rect x="657.9" y="640.5" width="44.3" height="323.1" fill="url(#cb)"/>
<text x="673.05" y="628.7" font-size="36">m</text>
<text x="704.50" y="650.8000000000001" font-size="35.6">0.84</text>
<text x="704.50" y="756.1" font-size="35.6">0.56</text>
<text x="704.50" y="863.6" font-size="35.6">0.28</text>
<text x="704.50" y="972.8000000000001" font-size="35.6">0</text>
<rect x="1208.2" y="640.5" width="44.3" height="323.1" fill="url(#cb)"/>
<text x="1218.70" y="628.7" font-size="36">m</text>
<text x="1253.90" y="650.8000000000001" font-size="35.6">3.75</text>
<text x="1254.30" y="756.1" font-size="35.6">2.5</text>
<text x="1255.40" y="863.6" font-size="35.6">1.25</text>
<text x="1254.50" y="972.8000000000001" font-size="35.6">0</text>
</svg></body></html>
